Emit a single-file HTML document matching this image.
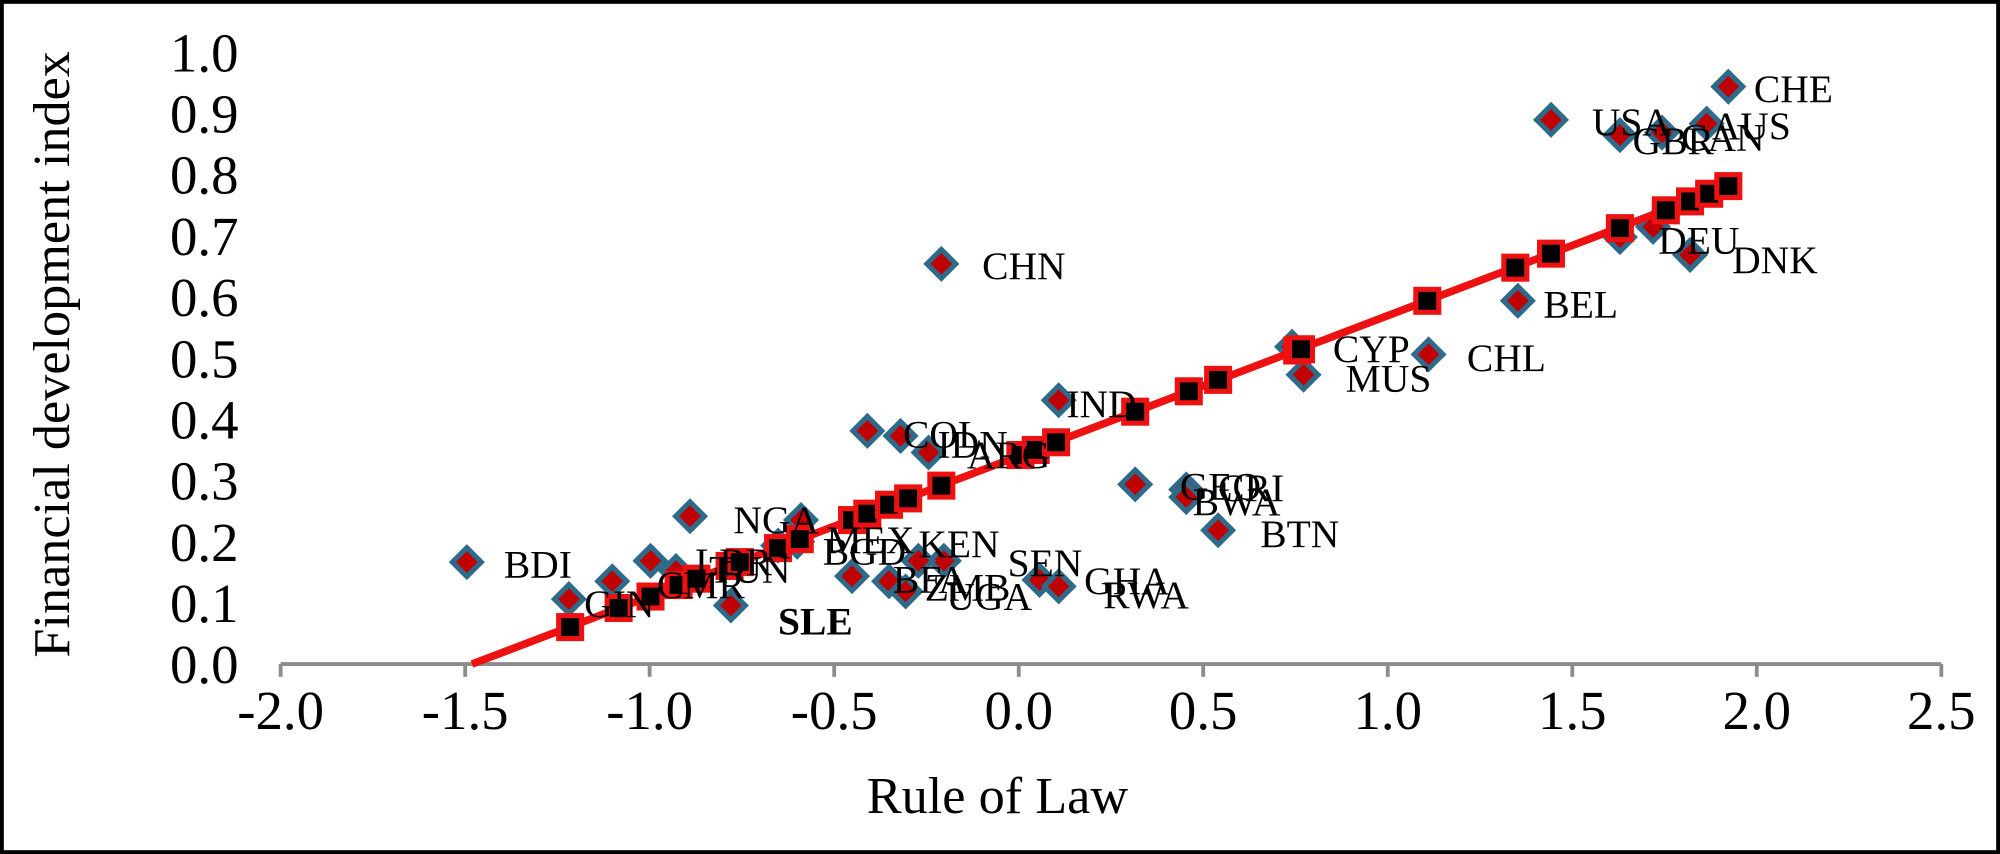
<!DOCTYPE html>
<html><head><meta charset="utf-8"><style>
html,body{margin:0;padding:0;background:#fff;}
svg{display:block;}
text{font-family:"Liberation Serif",serif;fill:#000;}
</style></head><body>
<svg width="2000" height="854" viewBox="0 0 1568 670" preserveAspectRatio="none" xmlns="http://www.w3.org/2000/svg">
<defs>
<g id="d"><rect x="-8" y="-8" width="16" height="16" transform="rotate(45)" fill="#c00000" stroke="#2e6b8a" stroke-width="4"/></g>
<g id="s"><rect x="-9" y="-9" width="18" height="18" fill="#000" stroke="#ee1111" stroke-width="4"/></g>
</defs>
<rect x="1.5" y="1.5" width="1565" height="667" fill="#fff" stroke="#000" stroke-width="3"/>
<g stroke="#8c8c8c" stroke-width="3">
<line x1="220" y1="521" x2="1522" y2="521"/>
<line x1="220" y1="521" x2="220" y2="531"/><line x1="364.7" y1="521" x2="364.7" y2="531"/><line x1="509.3" y1="521" x2="509.3" y2="531"/><line x1="654" y1="521" x2="654" y2="531"/><line x1="798.7" y1="521" x2="798.7" y2="531"/><line x1="943.3" y1="521" x2="943.3" y2="531"/><line x1="1088" y1="521" x2="1088" y2="531"/><line x1="1232.7" y1="521" x2="1232.7" y2="531"/><line x1="1377.3" y1="521" x2="1377.3" y2="531"/><line x1="1522" y1="521" x2="1522" y2="531"/>
</g>
<g font-size="43" text-anchor="middle">
<text x="220" y="572">-2.0</text><text x="364.7" y="572">-1.5</text><text x="509.3" y="572">-1.0</text><text x="654" y="572">-0.5</text><text x="798.7" y="572">0.0</text><text x="943.3" y="572">0.5</text><text x="1088" y="572">1.0</text><text x="1232.7" y="572">1.5</text><text x="1377.3" y="572">2.0</text><text x="1522" y="572">2.5</text>
</g>
<text x="782" y="638" font-size="41" text-anchor="middle">Rule of Law</text>
<g font-size="43" text-anchor="end">
<text x="187" y="536">0.0</text><text x="187" y="488">0.1</text><text x="187" y="440">0.2</text><text x="187" y="392">0.3</text><text x="187" y="344">0.4</text><text x="187" y="296">0.5</text><text x="187" y="248">0.6</text><text x="187" y="200">0.7</text><text x="187" y="152">0.8</text><text x="187" y="104">0.9</text><text x="187" y="56">1.0</text>
</g>
<text transform="translate(54,278) rotate(-90)" font-size="41" text-anchor="middle">Financial development index</text>
<g>
<use href="#d" x="1355" y="68"/><use href="#d" x="1216" y="94"/><use href="#d" x="1270" y="106"/><use href="#d" x="1303" y="104"/><use href="#d" x="1338" y="97"/>
<use href="#d" x="1270" y="186"/><use href="#d" x="1325" y="200"/><use href="#d" x="1296" y="178"/><use href="#d" x="1190" y="236"/>
<use href="#d" x="738" y="207"/><use href="#d" x="1013" y="272"/><use href="#d" x="1022" y="294"/><use href="#d" x="1120" y="278"/>
<use href="#d" x="830" y="314"/><use href="#d" x="680" y="338"/><use href="#d" x="706" y="342"/><use href="#d" x="728" y="355"/>
<use href="#d" x="890" y="380"/><use href="#d" x="930" y="384"/><use href="#d" x="930" y="390"/><use href="#d" x="955" y="416"/>
<use href="#d" x="541" y="405"/><use href="#d" x="628" y="408"/><use href="#d" x="366" y="441"/><use href="#d" x="510" y="440"/><use href="#d" x="530" y="448"/>
<use href="#d" x="446" y="470"/><use href="#d" x="480" y="456"/><use href="#d" x="573" y="475"/><use href="#d" x="610" y="428"/><use href="#d" x="625" y="425"/>
<use href="#d" x="740" y="440"/><use href="#d" x="668" y="452"/><use href="#d" x="697" y="456"/><use href="#d" x="710" y="464"/>
<use href="#d" x="815" y="455"/><use href="#d" x="830" y="460"/><use href="#d" x="720" y="440"/>
</g>
<line x1="370" y1="521" x2="1355" y2="146" stroke="#ee1111" stroke-width="6"/>
<g>
<use href="#s" x="447" y="492"/><use href="#s" x="485" y="477"/><use href="#s" x="510" y="468"/><use href="#s" x="532" y="459"/><use href="#s" x="546" y="454"/>
<use href="#s" x="572" y="444"/><use href="#s" x="580" y="441"/><use href="#s" x="610" y="430"/><use href="#s" x="627" y="423"/><use href="#s" x="668" y="408"/>
<use href="#s" x="680" y="403"/><use href="#s" x="697" y="396"/><use href="#s" x="712" y="391"/><use href="#s" x="738" y="381"/><use href="#s" x="800" y="357"/>
<use href="#s" x="812" y="353"/><use href="#s" x="828" y="347"/><use href="#s" x="890" y="323"/><use href="#s" x="932" y="307"/><use href="#s" x="955" y="298"/>
<use href="#s" x="1017" y="275"/><use href="#s" x="1020" y="274"/><use href="#s" x="1119" y="236"/><use href="#s" x="1188" y="210"/><use href="#s" x="1216" y="199"/>
<use href="#s" x="1270" y="179"/><use href="#s" x="1306" y="165"/><use href="#s" x="1325" y="158"/><use href="#s" x="1340" y="152"/><use href="#s" x="1355" y="146"/>
</g>
<g font-size="31">
<text x="1375" y="80">CHE</text><text x="1248" y="106">USA</text><text x="1280" y="121">GBR</text><text x="1318" y="118">CAN</text><text x="1342" y="109">AUS</text>
<text x="1300" y="199">DEU</text><text x="1358" y="214">DNK</text><text x="1210" y="249">BEL</text><text x="770" y="219">CHN</text>
<text x="1045" y="284">CYP</text><text x="1055" y="307">MUS</text><text x="1150" y="291">CHL</text><text x="836" y="327">IND</text>
<text x="708" y="351">COL</text><text x="735" y="359">IDN</text><text x="758" y="367">ARG</text>
<text x="925" y="392">GEO</text><text x="955" y="393">CRI</text><text x="935" y="404">BWA</text><text x="988" y="429">BTN</text>
<text x="575" y="418">NGA</text><text x="395" y="453">BDI</text><text x="545" y="451">LBR</text><text x="556" y="457">TUN</text>
<text x="458" y="484">GIN</text><text x="515" y="469">CMR</text><text x="645" y="443">BGD</text><text x="648" y="434">MEX</text><text x="720" y="437">KEN</text>
<text x="790" y="452">SEN</text><text x="700" y="465">BFA</text><text x="725" y="471">ZMB</text><text x="742" y="478">UGA</text>
<text x="850" y="466">GHA</text><text x="865" y="477">RWA</text>
<text x="610" y="498" font-weight="bold">SLE</text>
</g>
</svg>
</body></html>
